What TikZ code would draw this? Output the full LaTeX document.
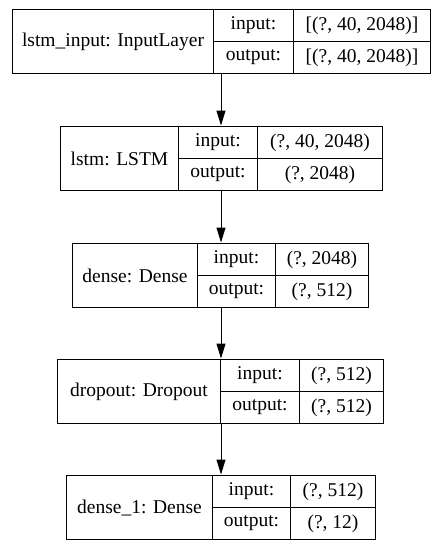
\documentclass[tikz,border=0pt]{standalone}
\usepackage{fontspec}
\setmainfont{Liberation Serif}
\usetikzlibrary{positioning, arrows.meta}

\begin{document}
\begin{tikzpicture}[
          x=1pt, y=-1pt,
          frame/.style={minimum height=64pt, inner sep=0pt},
          namecell/.style={draw, anchor=north west, minimum height=64pt, inner sep=0pt},
          keycell/.style={draw, anchor=north west, minimum height=32pt, inner sep=0pt},
          valcell/.style={draw, anchor=north west, minimum height=32pt, inner sep=0pt},
          flow/.style={-{Triangle[length=15pt, width=9pt]}},
          line width=1pt,
          font=\fontsize{19.5}{22}\selectfont
      ]
      \useasboundingbox (0,0) rectangle (440,550);

      % lstm_input
      \node[frame, minimum width=418pt] (r1) at (221,41) {};
      \node[namecell, minimum width=201pt] (r1name) at (12,9) {lstm\_input: InputLayer};
      \node[keycell, minimum width=80pt] (r1in) at (213,9) {input:};
      \node[keycell, minimum width=80pt] (r1out) at (213,41) {output:};
      \node[valcell, minimum width=137pt] (r1inv) at (293,9) {[(?, 40, 2048)]};
      \node[valcell, minimum width=137pt] (r1outv) at (293,41) {[(?, 40, 2048)]};

      % lstm
      \node[frame, minimum width=322pt] (r2) at (221,158) {};
      \node[namecell, minimum width=118pt] (r2name) at (60,126) {lstm: LSTM};
      \node[keycell, minimum width=79pt] (r2in) at (178,126) {input:};
      \node[keycell, minimum width=79pt] (r2out) at (178,158) {output:};
      \node[valcell, minimum width=125pt] (r2inv) at (257,126) {(?, 40, 2048)};
      \node[valcell, minimum width=125pt] (r2outv) at (257,158) {(?, 2048)};

      % dense
      \node[frame, minimum width=296pt] (r3) at (220,275) {};
      \node[namecell, minimum width=125pt] (r3name) at (72,243) {dense: Dense};
      \node[keycell, minimum width=78pt] (r3in) at (197,243) {input:};
      \node[keycell, minimum width=78pt] (r3out) at (197,275) {output:};
      \node[valcell, minimum width=93pt] (r3inv) at (275,243) {(?, 2048)};
      \node[valcell, minimum width=93pt] (r3outv) at (275,275) {(?, 512)};

      % dropout
      \node[frame, minimum width=326pt] (r4) at (220,391) {};
      \node[namecell, minimum width=163pt] (r4name) at (57,359) {dropout: Dropout};
      \node[keycell, minimum width=79pt] (r4in) at (220,359) {input:};
      \node[keycell, minimum width=79pt] (r4out) at (220,391) {output:};
      \node[valcell, minimum width=84pt] (r4inv) at (299,359) {(?, 512)};
      \node[valcell, minimum width=84pt] (r4outv) at (299,391) {(?, 512)};

      % dense_1
      \node[frame, minimum width=309pt] (r5) at (220.5,507) {};
      \node[namecell, minimum width=146pt] (r5name) at (66,475) {dense\_1: Dense};
      \node[keycell, minimum width=78pt] (r5in) at (212,475) {input:};
      \node[keycell, minimum width=78pt] (r5out) at (212,507) {output:};
      \node[valcell, minimum width=85pt] (r5inv) at (290,475) {(?, 512)};
      \node[valcell, minimum width=85pt] (r5outv) at (290,507) {(?, 12)};

      \foreach \i/\j in {1/2, 2/3, 3/4, 4/5} {
          \draw[flow] (r\i.south -| r1.south) -- (r\j.north -| r1.south);
      }

      \end{tikzpicture}
\end{document}
